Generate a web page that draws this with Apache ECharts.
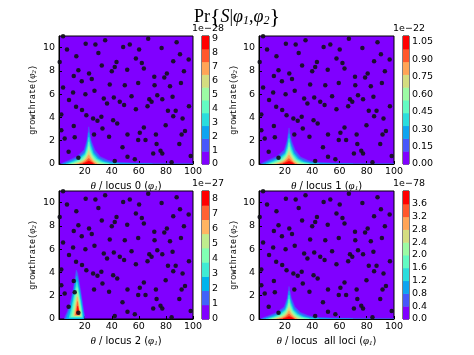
<!DOCTYPE html>
<html><head><meta charset="utf-8">
<script src="https://cdn.jsdelivr.net/npm/echarts@6/dist/echarts.min.js"></script>
<style>html,body{margin:0;padding:0;background:#fff}#c{width:474px;height:355px}</style>
</head><body><div id="c"></div>
<script>
// ---- data ----
const pointsTheta = [4.0,20.7,27.9,35.1,6.9,13.8,30.1,48.4,53.3,66.9,60.2,76.8,87.9,90.4,1.5,43.5,57.8,62.2,63.7,85.4,96.8,15.3,23.2,32.6,40,42.2,51.4,71.4,78.8,80.7,93.3,11.9,25.2,17.8,4,11.4,20.5,27.2,38.5,49.6,59.5,71.6,83,91.1,8.4,34.1,41.5,45.9,54.6,67.7,77.3,73.6,84.9,13.6,18,36.5,49.1,57.8,66.4,69.4,81.5,87.2,97,2.7,21.2,26.2,32.3,41,44,11.9,29.4,63.7,79.8,85.4,92.3,2.7,33.1,38,51.6,60.7,72.6,91.6,94.1,5.2,59.5,64.9,73.1,76,77.3,70.6,89.9,98.3,8.1,15.3,42.2,51.6,57,84.2,12.6,47.9,26.9];
const pointsGrowth = [10.97,10.34,10.26,10.63,9.83,9.26,9.54,10.06,10.26,10.77,9.83,9.97,10.46,9.43,8.77,8.77,9.06,8.69,8.2,8.83,8.97,8.06,7.77,8.46,7.97,8.34,8.11,7.49,7.43,7.77,7.97,7.57,7.31,7.11,6.57,6.14,6.0,6.29,6.83,6.77,6.97,6.77,6.69,6.97,5.49,5.63,5.71,5.34,5.83,5.57,5.57,5.91,5.77,4.91,4.63,5.2,5.06,4.71,4.97,5.34,4.57,4.57,4.97,4.26,4.2,3.91,4.06,3.77,3.49,3.26,3.71,3.14,3.34,4.11,3.91,2.91,3.06,2.34,2.54,2.69,2.54,2.54,2.83,2.2,2.06,2.06,1.71,1.14,0.91,0.91,1.71,0.69,1.06,0.54,0.26,0.63,0.4,0.14,2.3,1.43,2.54];

// contour level boundaries (colorbars)
const locus0Levels = [0,0.92,1.84,2.76,3.68,4.6,5.52,6.44,7.36,8.28,9.2];
const locus1Levels = [0,0.11,0.22,0.33,0.44,0.55,0.66,0.77,0.88,0.99,1.1];
const locus2Levels = [0,0.95,1.9,2.84,3.79,4.74,5.69,6.63,7.58,8.53];
const allLociLevels = [0,0.4,0.8,1.2,1.6,2.0,2.4,2.8,3.2,3.6,4.0];

// filled contour regions (theta, growthrate), one outline per level, outermost first
const locus0Contours = [
 [[2,0],[4,0.1],[8,0.3],[14,0.63],[19.5,1.2],[21.6,2],[23,3.2],[24.8,2],[27.5,1.2],[31.5,0.63],[37.5,0.3],[45,0.13],[60,0.07],[100,0.05],[100,0]],
 [[4,0],[9,0.22],[15,0.5],[20,1.0],[21.8,1.8],[23,2.7],[24.5,1.8],[26.8,1.0],[30.5,0.5],[35.5,0.22],[42,0.09],[55,0.04],[70,0]],
 [[6,0],[11,0.2],[16,0.45],[20.3,0.9],[22,1.6],[23,2.3],[24.3,1.6],[26.3,0.9],[29.5,0.45],[33.5,0.2],[38,0.07],[45,0]],
 [[8,0],[12.5,0.18],[17,0.4],[20.5,0.8],[22.2,1.35],[23,1.9],[24,1.35],[25.8,0.8],[28.5,0.4],[32,0.17],[38,0]],
 [[10,0],[14,0.15],[18,0.35],[20.8,0.7],[22.4,1.1],[23,1.5],[23.8,1.1],[25.5,0.7],[27.5,0.35],[30.5,0.14],[34,0]],
 [[12,0],[15.5,0.13],[19,0.3],[21.1,0.6],[23,1.15],[25,0.6],[26.8,0.3],[29,0.12],[31,0]],
 [[14,0],[17,0.1],[19.7,0.28],[21.5,0.5],[23,0.8],[24.6,0.5],[26,0.28],[28,0.1],[29,0]],
 [[16,0],[18.5,0.08],[20.5,0.22],[23,0.5],[25.3,0.22],[26.8,0.08],[27.5,0]],
 [[18.5,0],[20.5,0.1],[23,0.25],[25.5,0.1],[26.5,0]]
];
const locus1Contours = [
 [[2,0],[4,0.12],[8,0.35],[14,0.65],[19.5,1.2],[21.6,2],[23,3.1],[24.8,2],[27.5,1.2],[31.5,0.6],[37.5,0.28],[45,0.12],[60,0.06],[100,0.04],[100,0]],
 [[4,0],[9,0.25],[15,0.52],[20,1.0],[21.8,1.75],[23,2.6],[24.5,1.75],[26.8,1.0],[30.5,0.48],[35.5,0.2],[42,0.08],[55,0.03],[70,0]],
 [[6,0],[11,0.22],[16,0.47],[20.3,0.9],[22,1.55],[23,2.2],[24.3,1.55],[26.3,0.9],[29.5,0.43],[33.5,0.18],[38,0.06],[45,0]],
 [[8,0],[12.5,0.19],[17,0.41],[20.5,0.8],[22.2,1.3],[23,1.85],[24,1.3],[25.8,0.8],[28.5,0.38],[32,0.15],[38,0]],
 [[10,0],[14,0.16],[18,0.36],[20.8,0.7],[22.4,1.05],[23,1.45],[23.8,1.05],[25.5,0.7],[27.5,0.33],[30.5,0.13],[34,0]],
 [[12,0],[15.5,0.14],[19,0.3],[21.1,0.6],[23,1.1],[25,0.6],[26.8,0.28],[29,0.11],[31,0]],
 [[14,0],[17,0.11],[19.7,0.28],[21.5,0.5],[23,0.78],[24.6,0.5],[26,0.26],[28,0.09],[29,0]],
 [[16,0],[18.5,0.08],[20.5,0.22],[23,0.48],[25.3,0.21],[26.8,0.07],[27.5,0]],
 [[18.5,0],[20.5,0.1],[23,0.24],[25.5,0.1],[26.5,0]]
];
const locus2Contours = [
 [[5,0],[5.5,0.2],[8.5,1.0],[11.5,2.5],[13.8,4.2],[14.8,3.9],[17,2.4],[19,0.9],[20,0.2],[19.5,0]],
 [[6.5,0],[7,0.25],[9.5,1.0],[12,2.4],[14,3.7],[15,3.3],[16.8,2.1],[18.5,0.8],[19.2,0.25],[18.8,0]],
 [[8.5,0.1],[10.5,1.0],[12.5,2.2],[14.2,3.2],[15,2.8],[16.5,1.8],[18,0.7],[18.5,0.1]],
 [[10,0.2],[11.5,1.0],[13,2.0],[14.3,2.7],[15,2.4],[16.2,1.6],[17.5,0.6],[17.8,0.2]],
 [[11.3,0.25],[12.5,1.0],[13.6,1.8],[14.4,2.3],[15,2.0],[16,1.3],[17.1,0.5],[17.2,0.25]],
 [[12.3,0.3],[13.2,1.0],[14.5,1.9],[15.1,1.6],[15.8,1.0],[16.6,0.4],[16.5,0.3]],
 [[13.2,0.35],[14,1.0],[14.6,1.5],[15.1,1.2],[15.7,0.7],[16.2,0.35]],
 [[13.9,0.45],[14.4,0.8],[14.8,1.1],[15.2,0.9],[15.7,0.5],[15.4,0.4]]
];
const allLociContours = [
 [[2,0],[4,0.1],[8,0.28],[14,0.55],[19.5,1.05],[21.7,1.8],[23,2.8],[24.7,1.8],[27.3,1.05],[31.5,0.55],[37.5,0.27],[45,0.12],[60,0.06],[100,0.04],[100,0]],
 [[4,0],[9,0.2],[15,0.45],[20,0.9],[21.9,1.6],[23,2.4],[24.4,1.6],[26.7,0.9],[30.5,0.45],[35.5,0.2],[42,0.08],[55,0.03],[70,0]],
 [[6,0],[11,0.18],[16,0.4],[20.3,0.8],[22,1.4],[23,2.05],[24.2,1.4],[26.2,0.8],[29.5,0.4],[33.5,0.18],[38,0.06],[45,0]],
 [[8,0],[12.5,0.16],[17,0.36],[20.6,0.72],[22.3,1.2],[23,1.7],[24,1.2],[25.7,0.72],[28.5,0.36],[32,0.15],[38,0]],
 [[10,0],[14,0.14],[18,0.32],[20.9,0.63],[22.4,1.0],[23,1.35],[23.8,1.0],[25.4,0.63],[27.5,0.32],[30.5,0.13],[34,0]],
 [[12,0],[15.5,0.12],[19,0.27],[21.2,0.54],[23,1.0],[24.9,0.54],[26.7,0.27],[29,0.11],[31,0]],
 [[14,0],[17,0.09],[19.8,0.25],[21.6,0.45],[23,0.7],[24.5,0.45],[26,0.25],[28,0.09],[29,0]],
 [[16,0],[18.5,0.07],[20.6,0.2],[23,0.45],[25.2,0.2],[26.7,0.07],[27.5,0]],
 [[18.5,0],[20.6,0.09],[23,0.22],[25.4,0.09],[26.5,0]]
];
const colorbarSteps = [1, 0.15, 1, 0.4];
const colorbarDecimals = [0, 2, 0, 1];
const colorbarExponents = ['1e\u221228', '1e\u221222', '1e\u221227', '1e\u221278'];
const xTitles = ['locus 0', 'locus 1', 'locus 2', 'locus  all loci'];

// ---- layout ----
const mainRects = [[59,36,134,128],[259,36,135,128],[59,191,134,128],[259,191,135,128]];
const cbRects = [[202,36,7,128],[403,36,6,128],[202,191,7,128],[403,191,6,128]];
const yNameGaps = [21, 19, 21, 19];
const contoursAll = [locus0Contours, locus1Contours, locus2Contours, allLociContours];
const levelsAll = [locus0Levels, locus1Levels, locus2Levels, allLociLevels];

function rainbow(t) {
  const r = Math.min(1, Math.abs(2 * t - 0.5)), g = Math.sin(Math.PI * t), b = Math.cos(Math.PI * t / 2);
  return 'rgb(' + Math.round(r * 255) + ',' + Math.round(g * 255) + ',' + Math.round(b * 255) + ')';
}

const grid = [], xAxis = [], yAxis = [], series = [];
const tickFont = {fontSize: 9.5, color: '#000', fontFamily: 'DejaVu Sans'};
const mathRich = {
  m: {fontFamily: 'Liberation Serif', fontStyle: 'italic', fontSize: 11, color: '#000'},
  sub: {fontFamily: 'Liberation Serif', fontStyle: 'italic', fontSize: 7, color: '#000', padding: [5, 0, 0, 0]}
};
const scatterData = pointsTheta.map((x, i) => [x, pointsGrowth[i]]);

for (let p = 0; p < 4; p++) {
  const r = mainRects[p], c = cbRects[p];
  const levels = levelsAll[p], contours = contoursAll[p];
  const nBands = levels.length - 1;
  const gi = 2 * p, ci = 2 * p + 1;
  grid.push({left: r[0], top: r[1], width: r[2], height: r[3], show: true,
    backgroundColor: rainbow(0), borderColor: '#000', borderWidth: 1});
  grid.push({left: c[0], top: c[1], width: c[2], height: c[3], show: true,
    backgroundColor: 'transparent', borderColor: '#000', borderWidth: 1});
  xAxis.push({gridIndex: gi, type: 'value', min: 1, max: 100, splitNumber: 5,
    axisLine: {lineStyle: {color: '#000'}}, splitLine: {show: false},
    axisTick: {inside: true, length: 3, lineStyle: {color: '#000'}},
    axisLabel: Object.assign({showMinLabel: false, margin: 3}, tickFont),
    name: '{m|θ} / ' + xTitles[p] + ' ({m|φ}{sub|1})', nameLocation: 'middle', nameGap: 16,
    nameTextStyle: {fontSize: 10, fontFamily: 'DejaVu Sans', color: '#000', rich: mathRich}});
  yAxis.push({gridIndex: gi, type: 'value', min: 0, max: 11, interval: 2,
    axisLine: {lineStyle: {color: '#000'}}, splitLine: {show: false},
    axisTick: {inside: true, length: 3, lineStyle: {color: '#000'}},
    axisLabel: Object.assign({showMaxLabel: false, margin: 4}, tickFont),
    name: 'growthrate({m|φ}{sub|2})', nameLocation: 'middle', nameRotate: 90, nameGap: yNameGaps[p],
    nameTextStyle: {fontSize: 8.5, fontFamily: 'Liberation Mono', color: '#000', rich: {
      m: {fontFamily: 'Liberation Serif', fontStyle: 'italic', fontSize: 9.5, color: '#000'},
      sub: {fontFamily: 'Liberation Serif', fontStyle: 'italic', fontSize: 6.5, color: '#000', padding: [4, 0, 0, 0]}}}});
  xAxis.push({gridIndex: ci, type: 'value', min: 0, max: 1, show: false});
  yAxis.push({gridIndex: ci, type: 'value', position: 'right', min: 0, max: levels[nBands],
    interval: colorbarSteps[p], axisLine: {show: false}, axisTick: {show: false}, splitLine: {show: false},
    axisLabel: Object.assign({showMaxLabel: false, margin: 3,
      formatter: (v) => v.toFixed(colorbarDecimals[p])}, tickFont),
    name: colorbarExponents[p], nameLocation: 'end', nameGap: 2,
    nameTextStyle: {fontSize: 9.5, fontFamily: 'DejaVu Sans', color: '#000', align: 'center', padding: [0, 0, 0, 12]}});

  // filled contours
  series.push({type: 'custom', coordinateSystem: 'cartesian2d', xAxisIndex: gi, yAxisIndex: gi,
    clip: true, silent: true, z: 2,
    data: contours.map(poly => poly[0]),
    renderItem: (params, api) => {
      const k = params.dataIndex;
      const col = rainbow((k + 1) / (nBands - 1));
      return {type: 'polygon', shape: {points: contours[k].map(pt => api.coord(pt))},
        style: {fill: col, stroke: col, lineWidth: 0.5}};
    }});
  // sample points
  series.push({type: 'scatter', xAxisIndex: gi, yAxisIndex: gi, data: scatterData, z: 5,
    symbolSize: 4.5, itemStyle: {color: '#101018', opacity: 0.9}, silent: true});
  // colorbar
  series.push({type: 'custom', coordinateSystem: 'cartesian2d', xAxisIndex: ci, yAxisIndex: ci, silent: true,
    data: levels.slice(0, nBands).map(v => [0, v]),
    renderItem: (params, api) => {
      const k = params.dataIndex;
      const a = api.coord([0, levels[k + 1]]), b = api.coord([1, levels[k]]);
      return {type: 'rect', shape: {x: a[0], y: a[1], width: b[0] - a[0], height: b[1] - a[1] + 0.5},
        style: {fill: rainbow(k / (nBands - 1))}};
    }});
}

const chart = echarts.init(document.getElementById('c'), null, {renderer: 'canvas'});
chart.setOption({
  animation: false,
  backgroundColor: '#fff',
  title: {
    text: '{n|Pr}{{i|S}{n||}{i|φ}{s|1}{n|,}{i|φ}{s|2}}',
    left: 'center', top: -1,
    textStyle: {fontFamily: 'Liberation Serif', fontSize: 22, fontWeight: 'normal', color: '#000', lineHeight: 26,
      rich: {
        n: {fontFamily: 'Liberation Serif', fontSize: 18, color: '#000'},
        i: {fontFamily: 'Liberation Serif', fontStyle: 'italic', fontSize: 18, color: '#000'},
        s: {fontFamily: 'Liberation Serif', fontStyle: 'italic', fontSize: 12, color: '#000', padding: [8, 0, 0, 0]}
      }}
  },
  grid, xAxis, yAxis, series
});
</script>
</body></html>
